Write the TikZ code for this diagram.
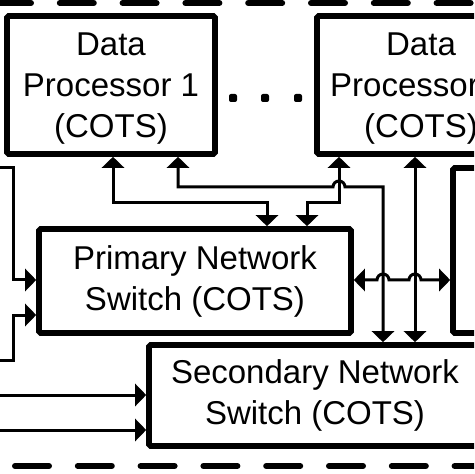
\documentclass[tikz,border=0pt]{standalone}
\usepackage{fontspec}
\setmainfont{Liberation Sans}
\usetikzlibrary{arrows.meta,calc}
\tikzset{
    box/.style={draw, line width=2.8pt, inner sep=0pt, align=center,
        rounded corners=0.8pt, font=\fontsize{16.5}{20.5}\selectfont},
    proc box/.style={box, minimum width=104pt, minimum height=69pt, text depth=0pt},
    link/.style={line width=1.5pt, >={Triangle[width=11pt,length=5.5pt]}},
    gap dot/.style={fill, inner sep=0pt, minimum size=4pt, rounded corners=1pt},
    frame rule/.style={line width=3pt, line cap=round, dash pattern=on 17pt off 14.4pt}
}

\begin{document}
\begin{tikzpicture}[x=0.5pt,y=-0.5pt]
\tikzstyle{hop}=[start angle=180, end angle=0, radius=3pt]
\useasboundingbox (0,0) rectangle (474,474);
\clip (0,0) rectangle (474,474);

\node[proc box] (dp1) at (111,85) {Data\\Processor 1\\(COTS)};
\node[proc box] (dp2) at (421,85) {Data\\Processor N\\(COTS)};
\node[box, minimum width=156pt, minimum height=52pt] (pri) at (195,281) {Primary Network\\Switch (COTS)};
\node[box, minimum width=166pt, minimum height=50.5pt] (sec) at (315,395.5) {Secondary Network\\Switch (COTS)};
\node[box, minimum width=104pt, minimum height=82.5pt] (aux) at (557,250.5) {};

\foreach \x in {233,265,298}
    \node[gap dot] (dot\x) at (\x,98) {};

\coordinate (l0) at (13,0);
\coordinate (la) at (113,0);
\coordinate (lb) at (178,0);
\coordinate (lc) at (267,0);
\coordinate (ld) at (307,0);
\coordinate (le) at (339,0);
\coordinate (lf) at (383,0);
\coordinate (lg) at (415,0);
\coordinate (yA) at (0,187);
\coordinate (yB) at (0,203);
\coordinate (yC) at (0,280);
\coordinate (yD) at (0,315);
\coordinate (in1) at (-10,168);
\coordinate (in2) at (-10,360);
\coordinate (in3) at (-10,395);
\coordinate (in4) at (-10,430);

\draw[link,<->] (dp1.south -| la) |- (lc |- yB) -- (pri.north -| lc);
\draw[link,<->] (dp2.south -| le) |- (ld |- yB) -- (pri.north -| ld);
\draw[link,<->] (dp1.south -| lb) -- (lb |- yA)
    -- ($(le |- yA)+(-6,0)$) arc[hop] -- (lf |- yA) -- (sec.north -| lf);
\draw[link,<->] (dp2.south -| lg) -- (sec.north -| lg);
\draw[link,<->] (pri.east |- yC) -- ($(lf |- yC)+(-6,0)$) arc[hop]
    -- ($(lg |- yC)+(-6,0)$) arc[hop] -- (aux.west |- yC);

\draw[link,->] (in1) -| (l0 |- yC) -- (pri.west |- yC);
\draw[link,->] (in2) -| (l0 |- yD) -- (pri.west |- yD);
\draw[link,->] (in3) -- (sec.west |- in3);
\draw[link,->] (in4) -- (sec.west |- in4);

\draw[frame rule] (-3,3) -- (490,3);
\draw[frame rule] (15,466) -- (490,466);
\end{tikzpicture}
\end{document}
